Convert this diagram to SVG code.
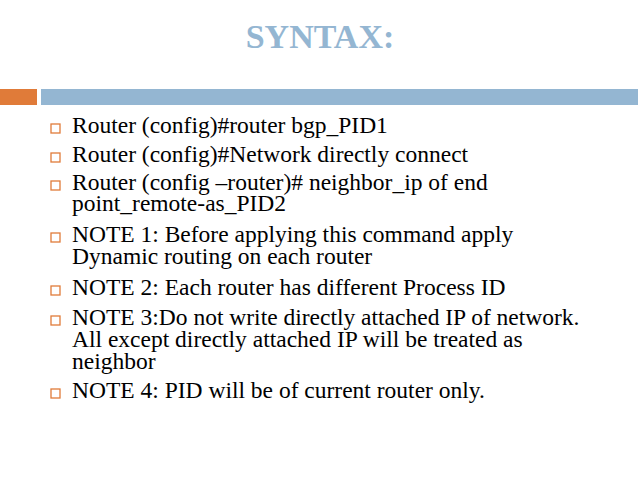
<svg xmlns="http://www.w3.org/2000/svg" width="638" height="478" viewBox="0 0 638 478">
<style>
.b{fill:none;stroke:#E07B39;stroke-width:1.3}
#body text{font-family:'Liberation Serif','Times New Roman','DejaVu Serif',serif;font-size:23.5px;fill:#000}
</style>
<rect width="638" height="478" fill="#fff"/>
<text x="320" y="48" text-anchor="middle" font-family="Liberation Serif,serif" font-weight="bold" font-size="34" fill="#94B6D2">SYNTAX:</text>
<rect x="0" y="89" width="37" height="16" fill="#E07B39"/>
<rect x="41" y="89" width="597" height="16" fill="#94B6D2"/>
<g id="body">
<rect class="b" x="51" y="124" width="9" height="9"/>
<text x="72" y="133">Router (config)#router bgp_PID1</text>
<rect class="b" x="51" y="153" width="9" height="9"/>
<text x="72" y="162">Router (config)#Network directly connect</text>
<rect class="b" x="51" y="181" width="9" height="9"/>
<text x="72" y="190">Router (config –router)# neighbor_ip of end</text>
<text x="72" y="211">point_remote-as_PID2</text>
<rect class="b" x="51" y="233" width="9" height="9"/>
<text x="72" y="242">NOTE 1: Before applying this command apply</text>
<text x="72" y="264">Dynamic routing on each router</text>
<rect class="b" x="51" y="286" width="9" height="9"/>
<text x="72" y="295">NOTE 2: Each router has different Process ID</text>
<rect class="b" x="51" y="316" width="9" height="9"/>
<text x="72" y="325">NOTE 3:Do not write directly attached IP of network.</text>
<text x="72" y="347">All except directly attached IP will be treated as</text>
<text x="72" y="369">neighbor</text>
<rect class="b" x="51" y="389" width="9" height="9"/>
<text x="72" y="398">NOTE 4: PID will be of current router only.</text>
</g>
</svg>
